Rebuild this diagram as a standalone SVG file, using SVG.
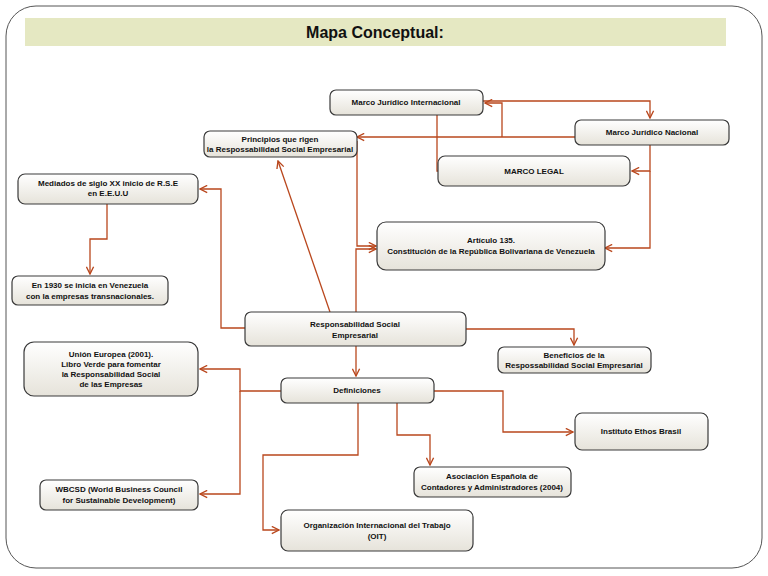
<svg xmlns="http://www.w3.org/2000/svg" width="768" height="576" viewBox="0 0 768 576">
<style>
.n{fill:url(#g);stroke:#3a3a3a;stroke-width:1.2}
.t{font-family:"Liberation Sans",Arial,sans-serif;font-size:8px;font-weight:bold;fill:#111;text-anchor:middle}
.c path{fill:none;stroke:#b9471d;stroke-width:1.3;marker-end:url(#a)}
.c path.p{marker-end:none}
</style>
<defs>
<linearGradient id="g" x1="0" y1="0" x2="0" y2="1"><stop offset="0" stop-color="#ffffff"/><stop offset="1" stop-color="#e6e3da"/></linearGradient>
<marker id="a" viewBox="0 0 10 10" refX="9" refY="5" markerWidth="9" markerHeight="9" markerUnits="userSpaceOnUse" orient="auto"><path d="M1,1 L9,5 L1,9" fill="none" stroke="#b9471d" stroke-width="1.5"/></marker>
</defs>
<rect width="768" height="576" fill="#fff"/>
<rect x="6" y="6" width="756" height="562" rx="30" fill="#fff" stroke="#555" stroke-width="1"/>
<rect x="25" y="18" width="701" height="28" fill="#e5e8c2"/>
<text x="375" y="38" font-family="Liberation Sans,Arial,sans-serif" font-size="16" font-weight="bold" text-anchor="middle" fill="#111">Mapa Conceptual:</text>
<g class="c">
<path d="M575,137 H357"/>
<path d="M502,137 V103 H485"/>
<path d="M483,101 H650 V118"/>
<path class="p" d="M438,171 H437 V101"/>
<path d="M650,145 V171 H632"/>
<path d="M650,171 V248 H605"/>
<path d="M357,141 V246 H376"/>
<path d="M356,312 V249 H376"/>
<path d="M330,312 L278,161"/>
<path d="M245,328 H221 V189 H200"/>
<path d="M107,204 V239 H90 V274"/>
<path d="M466,329 H574 V345"/>
<path d="M356,346 V376"/>
<path d="M281,391 H240 V369 H200"/>
<path d="M240,391 V494 H200"/>
<path d="M434,391 H503 V432 H573"/>
<path d="M397,403 V435 H430 V465"/>
<path d="M358,403 V455 H263 V530 H279"/>
</g>
<g id="mji"><rect class="n" x="330" y="90" width="153" height="25" rx="6"/><text class="t" x="406" y="105">Marco Jurídico Internacional</text></g>
<g id="mjn"><rect class="n" x="575" y="120" width="154" height="25" rx="6"/><text class="t" x="652" y="135">Marco Jurídico Nacional</text></g>
<g id="principios"><rect class="n" x="204" y="131" width="153" height="26" rx="6"/><text class="t" x="280" y="142">Principios que rigen</text><text class="t" x="280" y="152">la Respossabilidad Social Empresarial</text></g>
<g id="marcolegal"><rect class="n" x="438" y="156" width="192" height="30" rx="7"/><text class="t" x="534" y="174">MARCO LEGAL</text></g>
<g id="mediados"><rect class="n" x="18" y="174" width="180" height="30" rx="7"/><text class="t" x="108" y="186">Mediados de siglo XX  inicio  de  R.S.E</text><text class="t" x="108" y="196">en E.E.U.U</text></g>
<g id="articulo"><rect class="n" x="377" y="222" width="228" height="48" rx="9"/><text class="t" x="491" y="243">Artículo 135.</text><text class="t" x="491" y="254">Constitución de la República Bolivariana de Venezuela</text></g>
<g id="en1930"><rect class="n" x="12" y="276" width="156" height="29" rx="6"/><text class="t" x="90" y="288">En 1930 se inicia en  Venezuela</text><text class="t" x="90" y="299">con la empresas transnacionales.</text></g>
<g id="rse"><rect class="n" x="245" y="312" width="221" height="34" rx="6"/><text class="t" x="355" y="327">Responsabilidad Social</text><text class="t" x="355" y="338">Empresarial</text></g>
<g id="beneficios"><rect class="n" x="498" y="347" width="153" height="26" rx="6"/><text class="t" x="574" y="358">Beneficios de la</text><text class="t" x="574" y="368">Respossabilidad Social Empresarial</text></g>
<g id="union"><rect class="n" x="24" y="342" width="174" height="54" rx="10"/><text class="t" x="111" y="357">Unión Europea (2001).</text><text class="t" x="111" y="367">Libro Verde para fomentar</text><text class="t" x="111" y="377">la Responsabilidad Social</text><text class="t" x="111" y="387">de las Empresas</text></g>
<g id="definiciones"><rect class="n" x="281" y="378" width="153" height="25" rx="6"/><text class="t" x="357" y="393">Definiciones</text></g>
<g id="ethos"><rect class="n" x="575" y="413" width="133" height="37" rx="7"/><text class="t" x="641" y="434">Instituto Ethos Brasil</text></g>
<g id="wbcsd"><rect class="n" x="40" y="480" width="158" height="30" rx="6"/><text class="t" x="119" y="492">WBCSD (World Business Council</text><text class="t" x="119" y="503">for Sustainable Development)</text></g>
<g id="asociacion"><rect class="n" x="414" y="467" width="157" height="30" rx="6"/><text class="t" x="492" y="479">Asociación Española de</text><text class="t" x="492" y="490">Contadores y Administradores (2004)</text></g>
<g id="oit"><rect class="n" x="281" y="510" width="192" height="41" rx="7"/><text class="t" x="377" y="528">Organización Internacional del Trabajo</text><text class="t" x="377" y="539">(OIT)</text></g>
</svg>
